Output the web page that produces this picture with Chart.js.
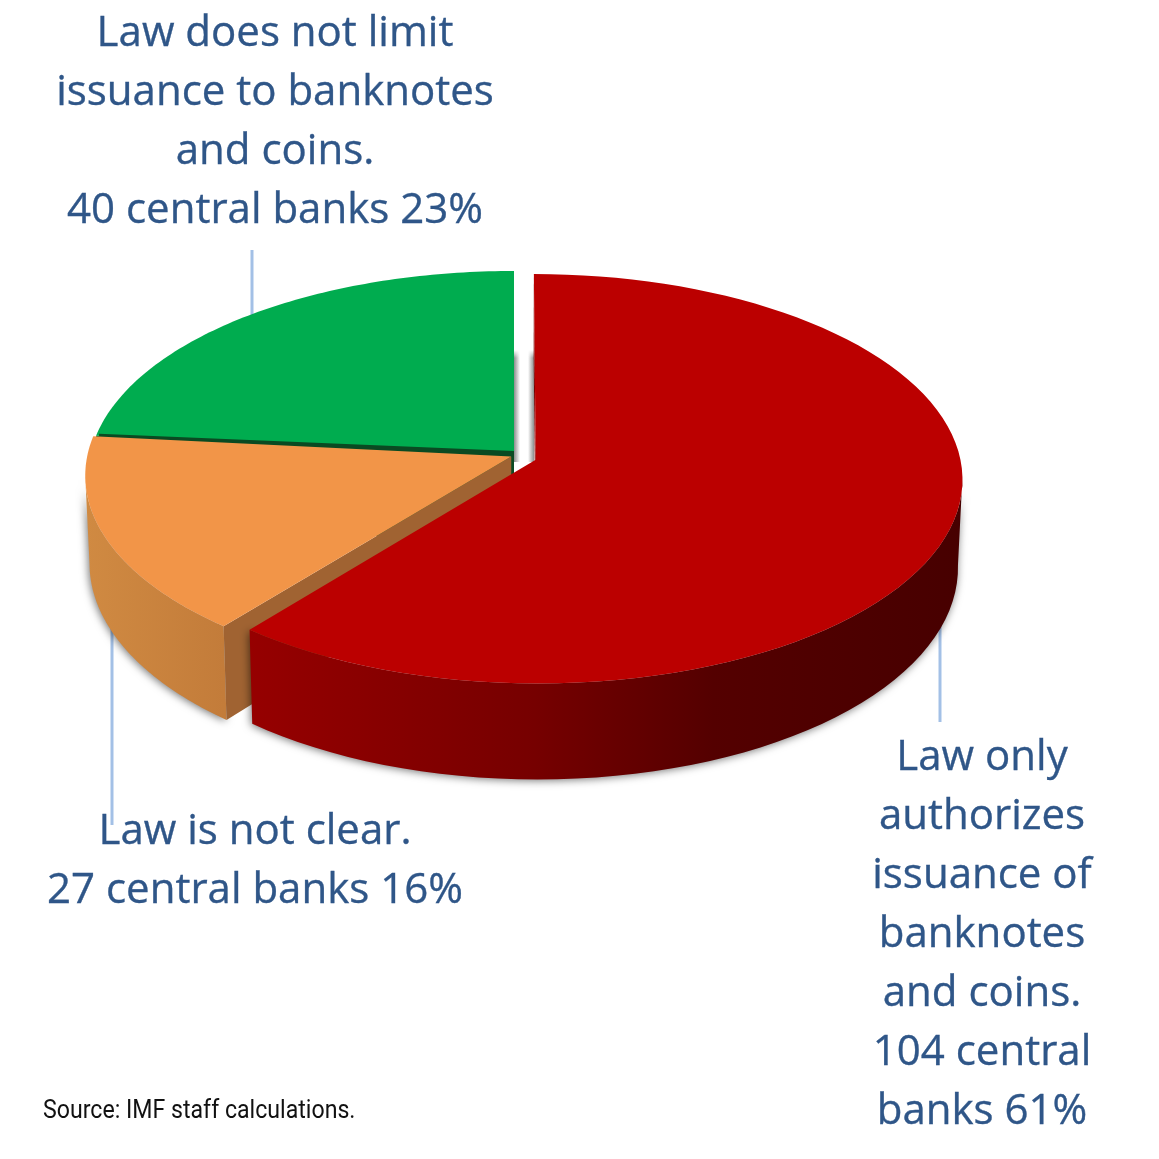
<!DOCTYPE html>
<html>
<head>
<meta charset="utf-8">
<script src="https://cdn.jsdelivr.net/npm/chart.js@4"></script>
<style>
  html, body { margin: 0; padding: 0; background: #fff; }
  #wrap { position: relative; width: 1159px; height: 1159px; overflow: hidden; }
  #pie { position: absolute; left: 0; top: 0; }
  .label { position: absolute; text-align: center; white-space: nowrap; color: #2f5688;
    font-family: "Open Sans", sans-serif; font-size: 42px; line-height: 59px; transform: translateX(-50%);
    -webkit-text-stroke: 0.35px #2f5688; }
  #source { position: absolute; left: 43px; top: 1094px; font-family: Roboto, sans-serif; font-size: 25.5px;
    color: #111; white-space: nowrap; transform: scaleX(0.907); transform-origin: left top; }
</style>
</head>
<body>
<div id="wrap">
  <canvas id="pie" width="1159" height="1159"></canvas>
  <div id="labels"></div>
  <div id="source">Source: IMF staff calculations.</div>
</div>
<script>
// Datos
const categories = ['Law only authorizes', 'Law is not clear', 'Law does not limit'];
const bankCounts = [104, 27, 40];
const labelLines = [
  ['Law only', 'authorizes', 'issuance of', 'banknotes', 'and coins.', '104 central', 'banks 61%'],
  ['Law is not clear.', '27 central banks 16%'],
  ['Law does not limit', 'issuance to banknotes', 'and coins.', '40 central banks 23%']
];

const sliceColors = ['#bb0000', '#f29548', '#00ac4f'];
const edgeColors = ['#7a0000', '#a06332', '#0a4a22'];
const wallStops = [
  [[0, '#960000'], [0.4, '#760000'], [0.65, '#540000'], [1, '#470000']],
  [[0, '#d08a42'], [1, '#c37c3a']],
  [[0, '#008a40'], [1, '#008a40']]
];
const sliceOffsets = [23, 3, 0];

// Posición de etiquetas y líneas guía (x centro, y de la primera línea)
const labelPos = [[982, 724], [255, 798], [275, 0]];
const leaders = [[940, 600, 722], [112, 600, 825], [252, 250, 330]];

// Perspectiva del pastel
const FLATTEN = 0.477;
const TILT = 0.093;
const DEPTH = 87;
const LOWER_SHRINK = 0.99;
const STEPS = 90;

function project(el, angle, radius, offset, lower) {
  const mid = (el.startAngle + el.endAngle) / 2;
  const R = el.outerRadius;
  const u = (offset * Math.cos(mid) + radius * Math.cos(angle)) / R;
  const v = (offset * Math.sin(mid) + radius * Math.sin(angle)) / R;
  const w = 1 - TILT * v;
  return {
    x: el.x + R * u / w * (lower ? LOWER_SHRINK : 1),
    y: el.y + R * FLATTEN * v / w + (lower ? DEPTH / w : 0)
  };
}

function rim(el, offset, lower) {
  const pts = [];
  for (let i = 0; i <= STEPS; i++) {
    const a = el.startAngle + (el.endAngle - el.startAngle) * i / STEPS;
    pts.push(project(el, a, el.outerRadius, offset, lower));
  }
  return pts;
}

function fillPath(ctx, pts, fill) {
  ctx.beginPath();
  pts.forEach((p, i) => i ? ctx.lineTo(p.x, p.y) : ctx.moveTo(p.x, p.y));
  ctx.closePath();
  ctx.fillStyle = fill;
  ctx.fill();
}

class Arc3D extends Chart.ArcElement {
  draw(ctx) {
    const i = this.sliceIndex;
    const offset = this.options.offset || 0;
    const top = rim(this, offset, false);
    const bottom = rim(this, offset, true);
    const center = project(this, 0, 0, offset, false);
    const centerLow = project(this, 0, 0, offset, true);

    // pared exterior: solo la parte frontal, entre los extremos en x
    const xs = top.map(p => p.x);
    const iMax = xs.indexOf(Math.max(...xs));
    const iMin = xs.indexOf(Math.min(...xs));
    if (iMax < iMin) {
      const grad = ctx.createLinearGradient(xs[iMin], 0, xs[iMax], 0);
      wallStops[i].forEach(s => grad.addColorStop(s[0], s[1]));
      ctx.save();
      ctx.shadowColor = 'rgba(0,0,0,0.55)';
      ctx.shadowBlur = 8;
      ctx.shadowOffsetX = -1;
      ctx.shadowOffsetY = 1;
      fillPath(ctx, top.slice(iMax, iMin + 1).concat(bottom.slice(iMax, iMin + 1).reverse()), grad);
      ctx.restore();
    }

    // pared interior del corte
    fillPath(ctx, [center, top[0], bottom[0], centerLow], edgeColors[i]);

    // cara superior
    fillPath(ctx, [center].concat(top), this.options.backgroundColor);

    if (i === 2) {
      // franja oscura bajo el sector verde
      const a = top[0];
      fillPath(ctx, [
        { x: a.x + 3, y: a.y - 2 },
        { x: center.x, y: center.y - 5 },
        { x: center.x, y: center.y + 4 },
        { x: a.x + 3, y: a.y + 4 }
      ], edgeColors[2]);
    }
  }
}
Arc3D.id = 'arc3d';

class Pie3D extends Chart.PieController {
  draw() {
    const ctx = this.chart.ctx;
    const arcs = this._cachedMeta.data;
    for (let i = arcs.length - 1; i >= 0; i--) {
      arcs[i].sliceIndex = i;
      arcs[i].draw(ctx);
    }
  }
}
Pie3D.id = 'pie3d';
Pie3D.defaults = { dataElementType: 'arc3d' };

Chart.register(Arc3D, Pie3D);

// Líneas guía y sombra del hueco entre sectores
const backdrop = {
  id: 'backdrop',
  beforeDatasetsDraw(chart) {
    const ctx = chart.ctx;
    const el = chart.getDatasetMeta(0).data[0];
    ctx.save();
    ctx.strokeStyle = '#a3c0e6';
    ctx.lineWidth = 3;
    leaders.forEach(l => {
      ctx.beginPath();
      ctx.moveTo(l[0], l[1]);
      ctx.lineTo(l[0], l[2]);
      ctx.stroke();
    });
    const g = ctx.createLinearGradient(el.x, 0, el.x + 20, 0);
    g.addColorStop(0, '#8d8d8d');
    g.addColorStop(0.3, '#ffffff');
    g.addColorStop(0.7, '#ffffff');
    g.addColorStop(1, '#8d8d8d');
    ctx.fillStyle = g;
    ctx.fillRect(el.x, el.y - 106, 20, 112);
    const fade = ctx.createLinearGradient(0, el.y - 106, 0, el.y - 98);
    fade.addColorStop(0, 'rgba(255,255,255,1)');
    fade.addColorStop(1, 'rgba(255,255,255,0)');
    ctx.fillStyle = fade;
    ctx.fillRect(el.x, el.y - 106, 20, 8);
    ctx.restore();
  }
};

new Chart(document.getElementById('pie'), {
  type: 'pie3d',
  data: {
    labels: categories,
    datasets: [{
      data: bankCounts,
      backgroundColor: sliceColors,
      borderWidth: 0,
      offset: sliceOffsets
    }]
  },
  options: {
    responsive: false,
    animation: false,
    events: [],
    layout: { padding: { left: 78.5, right: 209.5, top: 20.5, bottom: 267.5 } },
    plugins: { legend: { display: false }, tooltip: { enabled: false } }
  },
  plugins: [backdrop]
});

// Etiquetas como texto real
const labelsBox = document.getElementById('labels');
labelLines.forEach((lines, i) => {
  const div = document.createElement('div');
  div.className = 'label';
  div.style.left = labelPos[i][0] + 'px';
  div.style.top = labelPos[i][1] + 'px';
  div.innerHTML = lines.join('<br>');
  labelsBox.appendChild(div);
});
</script>
</body>
</html>
